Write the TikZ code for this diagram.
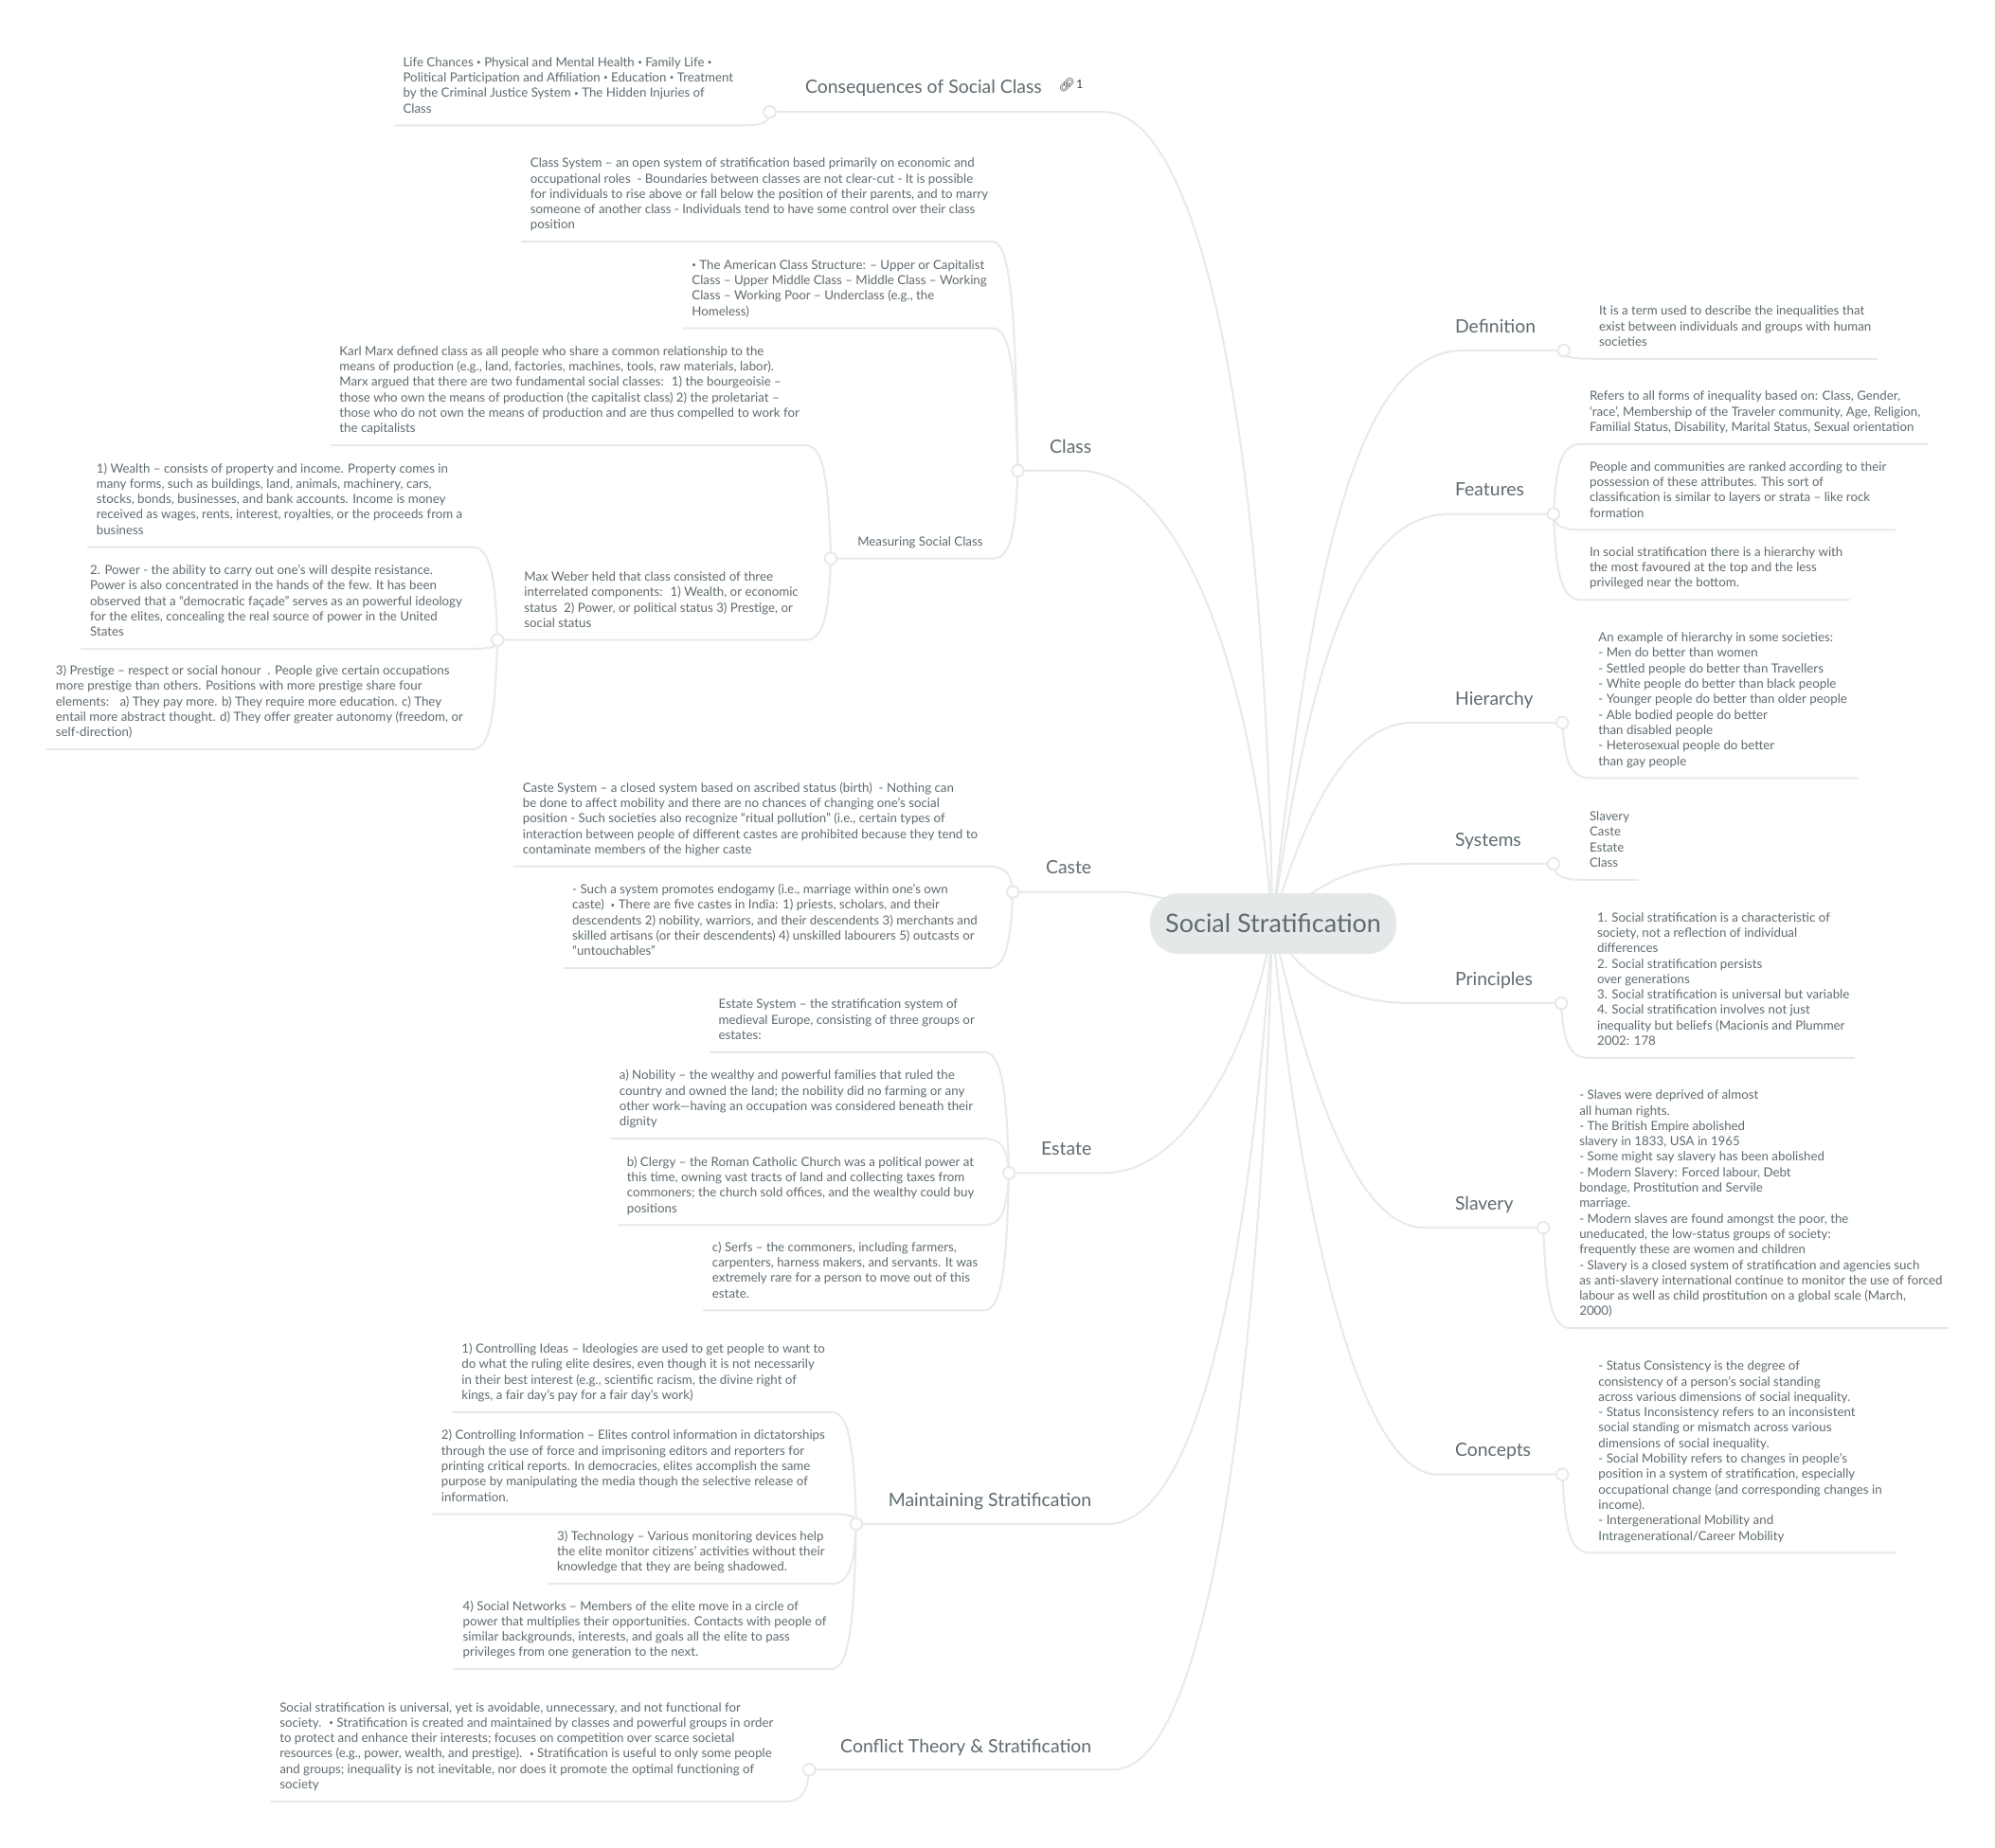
\documentclass[tikz,border=0pt]{standalone}
\usepackage{fontspec}
\usepackage{graphicx}
\setmainfont{Lato}
\newfontfamily\emojifont{Noto Emoji}
\usetikzlibrary{calc}
\pgfdeclarelayer{bg}
\pgfsetlayers{bg,main}
\definecolor{ink}{HTML}{5F6B70}
\definecolor{wire}{HTML}{E6EAEA}
\definecolor{rootfill}{HTML}{E5E8E9}
\newcommand\leaffont{\fontsize{13.3}{16.3}\selectfont}
\newcommand\topicfont{\fontsize{19.4}{22}\selectfont}
\newcommand\rootfont{\fontsize{27}{30}\selectfont}
\newcommand\bul{\raisebox{.12em}{\scalebox{.6}{•}}}
\tikzset{
  wireline/.style={draw=wire,line width=2pt,line cap=round},
  leafnode/.style={inner xsep=0pt,inner ysep=8.2pt,text=ink,font=\leaffont,anchor=south west},
  topic/.style={inner sep=0pt,text=ink,font=\topicfont},
  dotnode/.style={circle,draw=wire,line width=2pt,fill=white,minimum size=12.5pt,inner sep=0pt},
}
\newcommand\tleaf[6][9pt]{%
  \pgfmathsetlengthmacro{\leafw}{(#4-#3)*1.3431}%
  \node[leafnode] (#2) at (#3,#5) {\makebox[\leafw][l]{\hspace*{#1}\begin{tabular}{@{}l@{}}#6\end{tabular}}};}
\newcommand\conL[2]{%
  \draw[wireline] (#2.south west) -- (#2.south east)
    let \p1=(#2.south east),\p2=(#1),\n1={\x2-\x1},\n2={\y2-\y1} in
    .. controls +(0.75*\n1,0) and ($(\p2)+(-0.1*\n1,-0.65*\n2)$) .. (#1);}
\newcommand\conR[2]{%
  \draw[wireline] (#2.south east) -- (#2.south west)
    let \p1=(#2.south west),\p2=(#1),\n1={\x2-\x1},\n2={\y2-\y1} in
    .. controls +(0.75*\n1,0) and ($(\p2)+(-0.1*\n1,-0.65*\n2)$) .. (#1);}
\newcommand\branch[6]{% dot, knee x, y, c1x, c2x, c2y
  \coordinate (k#1) at (#2,#3);
  \draw[wireline] (rc) .. controls (#5,#6) and (#4,#3) .. (k#1) -- (#1);}
\begin{document}
\begin{tikzpicture}[x=1.3431pt,y=-1.3431pt]
\useasboundingbox (0,0) rectangle (1568,1452);
\begin{pgfonlayer}{bg}
\fill[white] (0,0) rectangle (1568,1452);
\end{pgfonlayer}
% root
\node[fill=rootfill,rounded corners=30pt,minimum width=260pt,minimum height=64pt,inner sep=0pt,text=ink,font=\rootfont] (root) at (1000.7,726) {\raisebox{-1pt}{Social Stratification}};
\coordinate (rc) at (1000,726);
% dots
\foreach \n/\x/\y in {dCons/605/88,dClass/800/370,dMeas/653/439,dWeber/391/503,dCaste/796/701,dEstate/793/922,dMaint/673/1198,dConf/636/1391,dDef/1229/275.5,dFeat/1221/404,dHier/1228/568,dSys/1221/679,dPrin/1227/788.5,dSlav/1213/965,dConc/1228/1159}
  \node[dotnode] (\n) at (\x,\y) {};
% topics left
\node[topic,anchor=base east] (tCons) at (819,73) {Consequences of Social Class};
\node[inner sep=0pt,text=ink!60!black,font=\emojifont\fontsize{14}{14}\selectfont] (tLink) at (838.5,67) {🔗};
\node[inner sep=0pt,text=ink!60!black,font=\fontsize{12.5}{12.5}\selectfont] (tOne) at (848.5,66.5) {1};
\node[topic,anchor=base east] (tClass) at (858,356.5) {Class};
\node[topic,anchor=base east] (tCaste) at (858,687) {Caste};
\node[topic,anchor=base east] (tEstate) at (858,908) {Estate};
\node[topic,anchor=base east] (tMaint) at (858,1184) {Maintaining Stratification};
\node[topic,anchor=base east] (tConf) at (858,1377.5) {Conflict Theory \& Stratification};
% topics right
\node[topic,anchor=base west] (tDef) at (1143.5,261.5) {Definition};
\node[topic,anchor=base west] (tFeat) at (1143.5,390) {Features};
\node[topic,anchor=base west] (tHier) at (1143.5,554) {Hierarchy};
\node[topic,anchor=base west] (tSys) at (1143.5,665) {Systems};
\node[topic,anchor=base west] (tPrin) at (1143.5,774.5) {Principles};
\node[topic,anchor=base west] (tSlav) at (1143.5,951) {Slavery};
\node[topic,anchor=base west] (tConc) at (1143.5,1145) {Concepts};
% leaves left
\tleaf{lCons}{310}{585}{98.5}{Life Chances \bul{} Physical and Mental Health \bul{} Family Life \bul{}\\Political Participation and Affiliation \bul{} Education \bul{} Treatment\\by the Criminal Justice System \bul{} The Hidden Injuries of\\Class}
\tleaf{lCS}{410}{780}{190}{Class System – an open system of stratification based primarily on economic and\\occupational roles~ - Boundaries between classes are not clear-cut - It is possible\\for individuals to rise above or fall below the position of their parents, and to marry\\someone of another class - Individuals tend to have some control over their class\\position}
\tleaf{lAm}{537}{780}{258}{\bul{} The American Class Structure: – Upper or Capitalist\\Class – Upper Middle Class – Middle Class – Working\\Class – Working Poor – Underclass (e.g., the\\Homeless)}
\tleaf[28pt]{lMeas}{653}{780}{439}{Measuring Social Class}
\tleaf{lMarx}{260}{633}{350}{Karl Marx defined class as all people who share a common relationship to the\\means of production (e.g., land, factories, machines, tools, raw materials, labor).\\Marx argued that there are two fundamental social classes:~ 1) the bourgeoisie –\\those who own the means of production (the capitalist class) 2) the proletariat –\\those who do not own the means of production and are thus compelled to work for\\the capitalists}
\tleaf[28pt]{lWeber}{391}{633}{503}{Max Weber held that class consisted of three\\interrelated components:~ 1) Wealth, or economic\\status~ 2) Power, or political status 3) Prestige, or\\social status}
\tleaf{lWealth}{69}{371}{430}{1) Wealth – consists of property and income. Property comes in\\many forms, such as buildings, land, animals, machinery, cars,\\stocks, bonds, businesses, and bank accounts. Income is money\\received as wages, rents, interest, royalties, or the proceeds from a\\business}
\tleaf{lPower}{64}{371}{510}{2. Power - the ability to carry out one’s will despite resistance.\\Power is also concentrated in the hands of the few. It has been\\observed that a “democratic façade” serves as an powerful ideology\\for the elites, concealing the real source of power in the United\\States}
\tleaf{lPrest}{37}{371}{589}{3) Prestige – respect or social honour~ . People give certain occupations\\more prestige than others. Positions with more prestige share four\\elements:~~ a) They pay more. b) They require more education. c) They\\entail more abstract thought. d) They offer greater autonomy (freedom, or\\self-direction)}
\tleaf{lCa}{404}{776}{681}{Caste System – a closed system based on ascribed status (birth)~ - Nothing can\\be done to affect mobility and there are no chances of changing one’s social\\position - Such societies also recognize “ritual pollution” (i.e., certain types of\\interaction between people of different castes are prohibited because they tend to\\contaminate members of the higher caste}
\tleaf{lCb}{443}{776}{761}{- Such a system promotes endogamy (i.e., marriage within one’s own\\caste)~ \bul{} There are five castes in India: 1) priests, scholars, and their\\descendents 2) nobility, warriors, and their descendents 3) merchants and\\skilled artisans (or their descendents) 4) unskilled labourers 5) outcasts or\\“untouchables”}
\tleaf{lEa}{558}{773}{827}{Estate System – the stratification system of\\medieval Europe, consisting of three groups or\\estates:}
\tleaf{lEb}{480}{773}{895}{a) Nobility – the wealthy and powerful families that ruled the\\country and owned the land; the nobility did no farming or any\\other work—having an occupation was considered beneath their\\dignity}
\tleaf{lEc}{486}{773}{963}{b) Clergy – the Roman Catholic Church was a political power at\\this time, owning vast tracts of land and collecting taxes from\\commoners; the church sold offices, and the wealthy could buy\\positions}
\tleaf{lEd}{553}{773}{1030}{c) Serfs – the commoners, including farmers,\\carpenters, harness makers, and servants. It was\\extremely rare for a person to move out of this\\estate.}
\tleaf{lMa}{356}{653}{1110}{1) Controlling Ideas – Ideologies are used to get people to want to\\do what the ruling elite desires, even though it is not necessarily\\in their best interest (e.g., scientific racism, the divine right of\\kings, a fair day’s pay for a fair day’s work)}
\tleaf{lMb}{340}{653}{1190}{2) Controlling Information – Elites control information in dictatorships\\through the use of force and imprisoning editors and reporters for\\printing critical reports. In democracies, elites accomplish the same\\purpose by manipulating the media though the selective release of\\information.}
\tleaf{lMc}{431}{653}{1245}{3) Technology – Various monitoring devices help\\the elite monitor citizens’ activities without their\\knowledge that they are being shadowed.}
\tleaf{lMd}{357}{653}{1312}{4) Social Networks – Members of the elite move in a circle of\\power that multiplies their opportunities. Contacts with people of\\similar backgrounds, interests, and goals all the elite to pass\\privileges from one generation to the next.}
\tleaf{lConf}{213}{616}{1416}{Social stratification is universal, yet is avoidable, unnecessary, and not functional for\\society.~ \bul{} Stratification is created and maintained by classes and powerful groups in order\\to protect and enhance their interests; focuses on competition over scarce societal\\resources (e.g., power, wealth, and prestige).~ \bul{} Stratification is useful to only some people\\and groups; inequality is not inevitable, nor does it promote the optimal functioning of\\society}
% leaves right
\tleaf{rDef}{1250}{1475}{282}{It is a term used to describe the inequalities that\\exist between individuals and groups with human\\societies}
\tleaf{rFa}{1242.5}{1515}{349}{Refers to all forms of inequality based on: Class, Gender,\\‘race’, Membership of the Traveler community, Age, Religion,\\Familial Status, Disability, Marital Status, Sexual orientation}
\tleaf{rFb}{1242.5}{1489}{416.5}{People and communities are ranked according to their\\possession of these attributes. This sort of\\classification is similar to layers or strata – like rock\\formation}
\tleaf{rFc}{1242.5}{1453}{471.5}{In social stratification there is a hierarchy with\\the most favoured at the top and the less\\privileged near the bottom.}
\tleaf{rHier}{1249.5}{1460}{611.5}{An example of hierarchy in some societies:\\- Men do better than women\\- Settled people do better than Travellers\\- White people do better than black people\\- Younger people do better than older people\\- Able bodied people do better\\than disabled people\\- Heterosexual people do better\\than gay people}
\tleaf{rSys}{1242.5}{1287}{691.5}{Slavery\\Caste\\Estate\\Class}
\tleaf{rPrin}{1248.5}{1457}{831.5}{1. Social stratification is a characteristic of\\society, not a reflection of individual\\differences\\2. Social stratification persists\\over generations\\3. Social stratification is universal but variable\\4. Social stratification involves not just\\inequality but beliefs (Macionis and Plummer\\2002: 178}
\tleaf{rSlav}{1234.5}{1531}{1044}{- Slaves were deprived of almost\\all human rights.\\- The British Empire abolished\\slavery in 1833, USA in 1965\\- Some might say slavery has been abolished\\- Modern Slavery: Forced labour, Debt\\bondage, Prostitution and Servile\\marriage.\\- Modern slaves are found amongst the poor, the\\uneducated, the low-status groups of society:\\frequently these are women and children\\- Slavery is a closed system of stratification and agencies such\\as anti-slavery international continue to monitor the use of forced\\labour as well as child prostitution on a global scale (March,\\2000)}
\tleaf{rConc}{1249.5}{1489}{1220.5}{- Status Consistency is the degree of\\consistency of a person’s social standing\\across various dimensions of social inequality.\\- Status Inconsistency refers to an inconsistent\\social standing or mismatch across various\\dimensions of social inequality.\\- Social Mobility refers to changes in people’s\\position in a system of stratification, especially\\occupational change (and corresponding changes in\\income).\\- Intergenerational Mobility and\\Intragenerational/Career Mobility}
% connectors
\begin{pgfonlayer}{bg}
\branch{dCons}{868}{88}{945}{995}{350}
\branch{dClass}{848}{370}{925}{985}{520}
\branch{dCaste}{880}{701}{900}{940}{712}
\branch{dEstate}{868}{922}{940}{990}{800}
\branch{dMaint}{870}{1198}{950}{985}{950}
\branch{dConf}{875}{1391}{960}{993}{1000}
\branch{dDef}{1150}{275.5}{1065}{1030}{450}
\branch{dFeat}{1140}{404}{1065}{1030}{520}
\branch{dHier}{1110}{568}{1060}{1025}{640}
\branch{dSys}{1110}{679}{1050}{1020}{710}
\branch{dPrin}{1110}{788.5}{1060}{1020}{770}
\branch{dSlav}{1120}{965}{1060}{1025}{830}
\branch{dConc}{1130}{1159}{1060}{1015}{900}
\conL{dCons}{lCons}
\conL{dClass}{lCS}
\conL{dClass}{lAm}
\conL{dClass}{lMeas}
\conL{dMeas}{lMarx}
\conL{dMeas}{lWeber}
\conL{dWeber}{lWealth}
\conL{dWeber}{lPower}
\conL{dWeber}{lPrest}
\conL{dCaste}{lCa}
\conL{dCaste}{lCb}
\conL{dEstate}{lEa}
\conL{dEstate}{lEb}
\conL{dEstate}{lEc}
\conL{dEstate}{lEd}
\conL{dMaint}{lMa}
\conL{dMaint}{lMb}
\conL{dMaint}{lMc}
\conL{dMaint}{lMd}
\conL{dConf}{lConf}
\conR{dDef}{rDef}
\conR{dFeat}{rFa}
\conR{dFeat}{rFb}
\conR{dFeat}{rFc}
\conR{dHier}{rHier}
\conR{dSys}{rSys}
\conR{dPrin}{rPrin}
\conR{dSlav}{rSlav}
\conR{dConc}{rConc}
\end{pgfonlayer}
\end{tikzpicture}
\end{document}
